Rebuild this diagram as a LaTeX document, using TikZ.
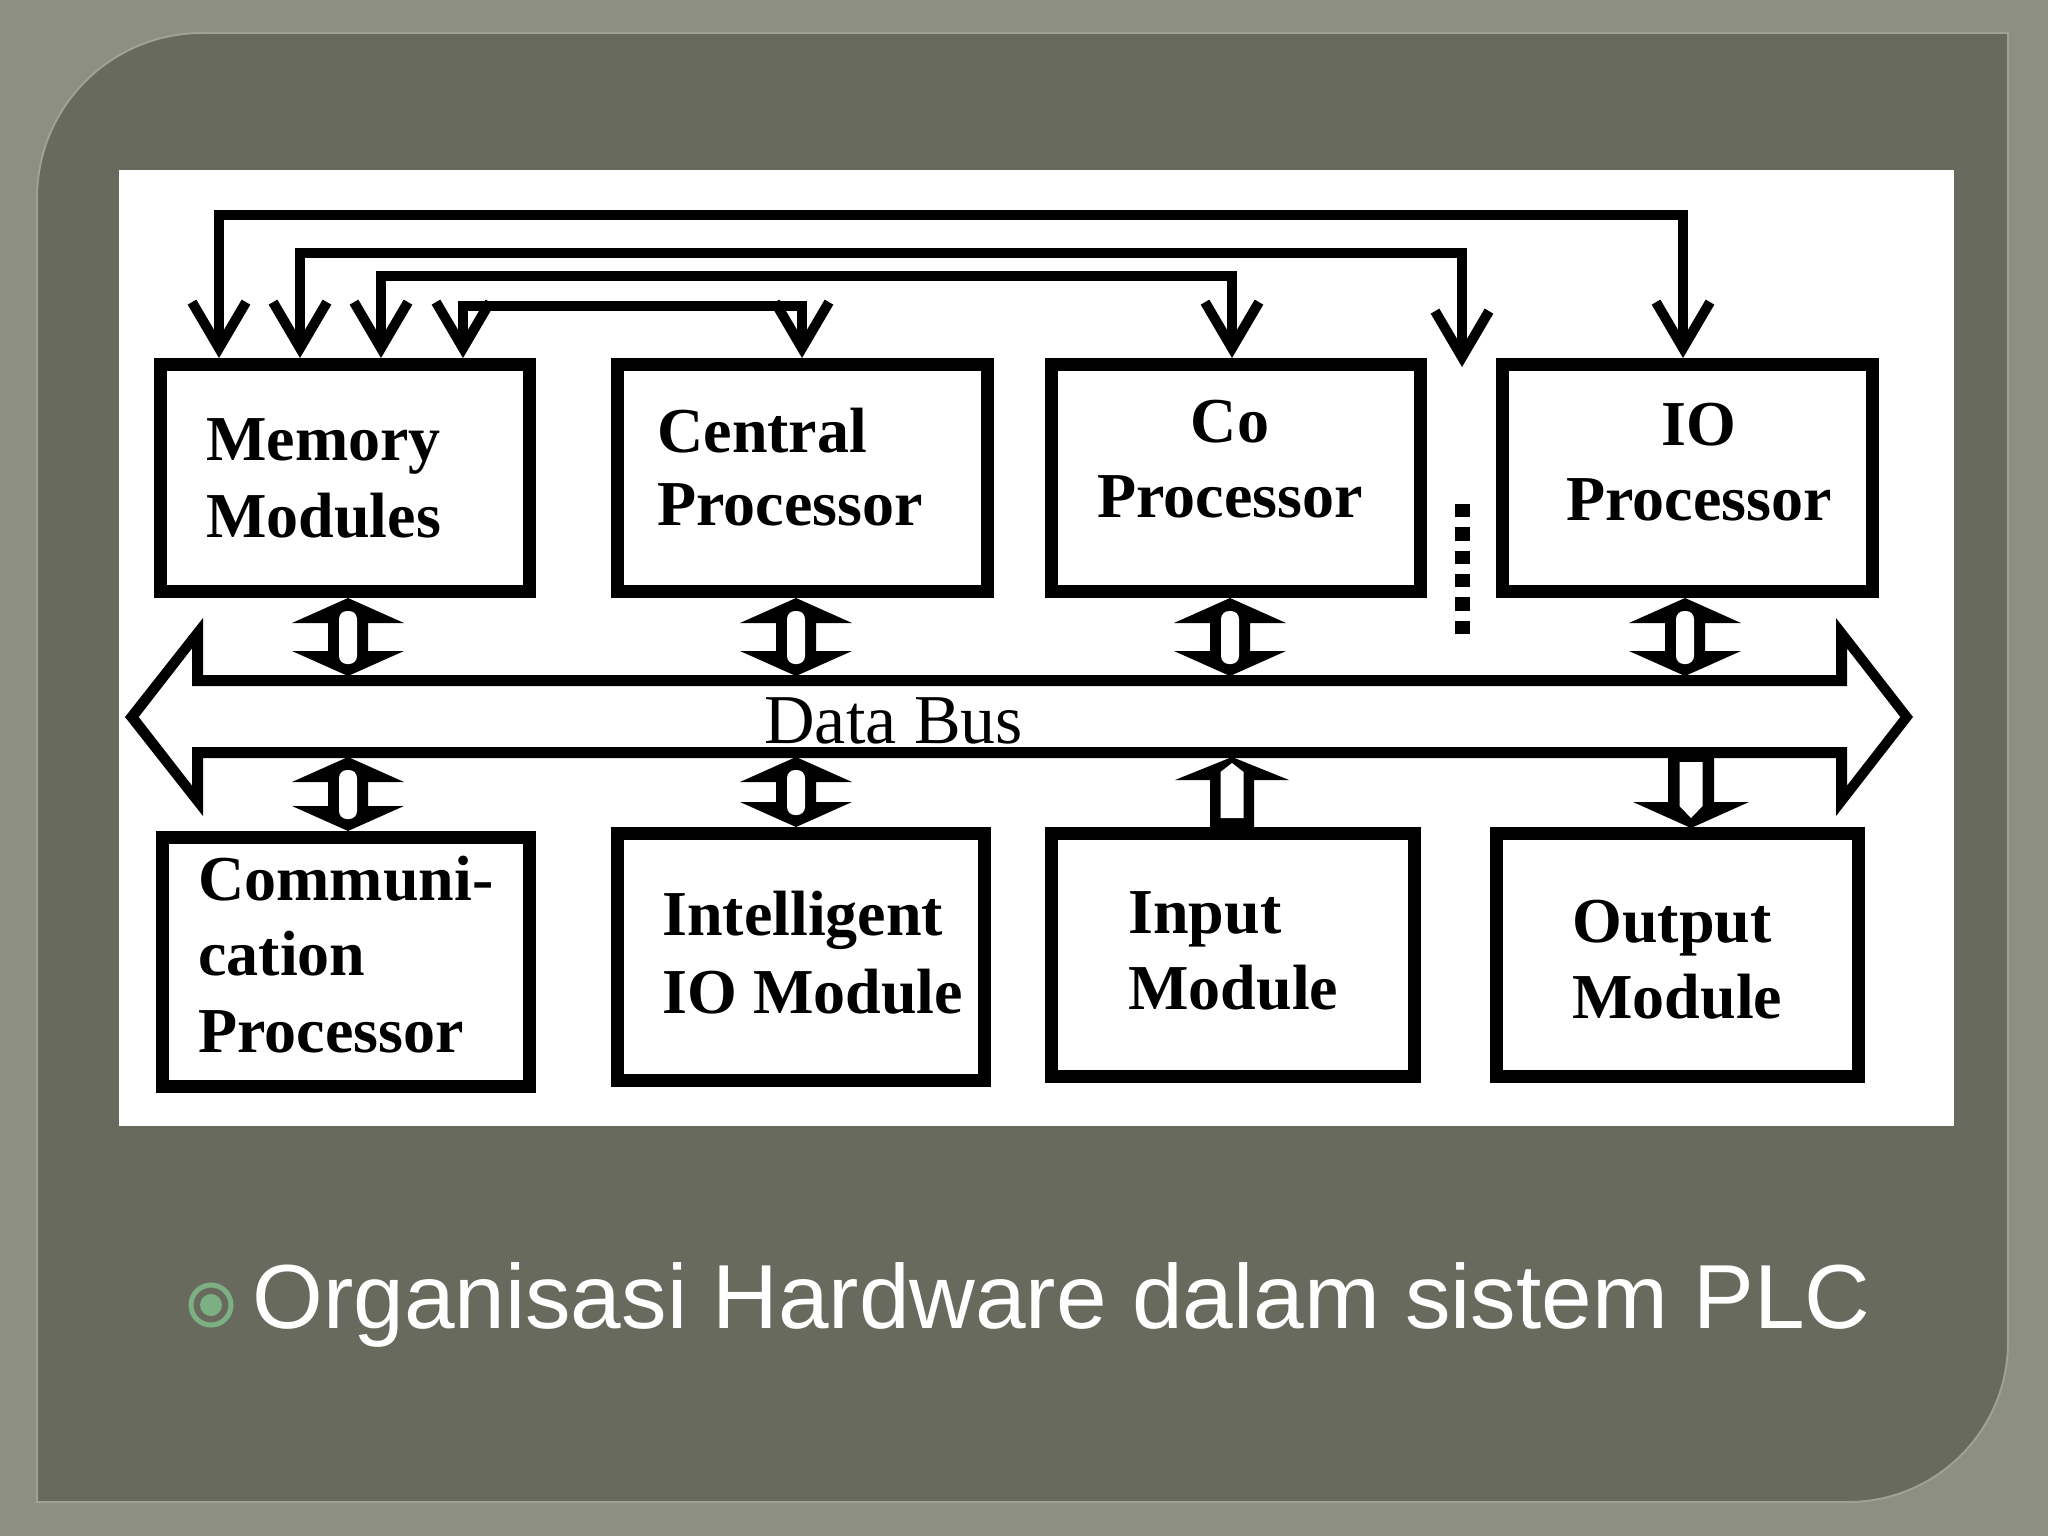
\documentclass[tikz,border=0pt]{standalone}
\usepackage{fontspec}
\setmainfont{Liberation Serif}
\newfontfamily\capfont{Liberation Sans}
\usetikzlibrary{arrows.meta}
\definecolor{outerbg}{RGB}{140,143,130}
\definecolor{panelbg}{RGB}{104,106,94}
\definecolor{rimcol}{RGB}{158,161,148}
\definecolor{bulletgreen}{RGB}{124,176,130}
\tikzset{
  box/.style={draw=black, line width=6.5pt, fill=white, inner sep=0pt, minimum height=113.5pt},
  lbl/.style={font=\bfseries\fontsize{32}{38}\selectfont, inner sep=0pt, text=black},
  buslbl/.style={font=\fontsize{35}{40}\selectfont, inner sep=0pt, text=black},
  caplbl/.style={font=\capfont\fontsize{45.5}{52}\selectfont, inner sep=0pt, text=white},
  busline/.style={line width=5pt, line join=miter,
     arrows={Straight Barb[length=23pt,width=27pt]-Straight Barb[length=23pt,width=27pt]}},
}
\newcommand{\dblarrow}[3]{%
  \fill[black] (#1,#2) -- (#1+56,#2+25) -- (#1+20,#2+25) -- (#1+20,#3-25) -- (#1+56,#3-25)
     -- (#1,#3) -- (#1-56,#3-25) -- (#1-20,#3-25) -- (#1-20,#2+25) -- (#1-56,#2+25) -- cycle;
  \fill[white, rounded corners=4pt] (#1-9,#2+13) rectangle (#1+9,#3-12);}
\begin{document}
\begin{tikzpicture}[x=0.5pt,y=-0.5pt]
\useasboundingbox (0,0) rectangle (2048,1536);
% background
\fill[outerbg] (0,0) rectangle (2048,1536);
\fill[panelbg] (37,1502) -- (37,198) arc[start angle=180, end angle=270, radius=165]
   -- (2008,33) -- (2008,1342) arc[start angle=0, end angle=90, radius=160] -- cycle;
\draw[rimcol, line width=1pt] (37,1502) -- (37,198) arc[start angle=180, end angle=270, radius=165]
   -- (2008,33) -- (2008,1342) arc[start angle=0, end angle=90, radius=160] -- cycle;
% white image area
\fill[white] (119,170) rectangle (1954,1126);
% data bus
\fill[black, even odd rule]
  (203,618) -- (203,675) -- (1836,675) -- (1836,618) -- (1913,717) -- (1836,816)
  -- (1836,758) -- (203,758) -- (203,816) -- (125,717) -- cycle
  (192,648.4) -- (192,686) -- (1847,686) -- (1847,648.4) -- (1900.3,717) -- (1847,785.6)
  -- (1847,747) -- (192,747) -- (192,785.6) -- (138.7,717) -- cycle;
\node[buslbl, anchor=base west] (dbus) at (764,743) {Data Bus};
% boxes
\node[box, minimum width=184.5pt] (mem) at (345,478) {};
\node[box, minimum width=185pt] (cen) at (802.5,478) {};
\node[box, minimum width=184.5pt] (cop) at (1236,478) {};
\node[box, minimum width=185pt] (iop) at (1687.5,478) {};
\node[box, minimum width=183.5pt, minimum height=124.5pt] (com) at (346,962) {};
\node[box, minimum width=183.5pt, minimum height=123.5pt] (int) at (801,957) {};
\node[box, minimum width=181.5pt, minimum height=121.5pt] (inp) at (1233,955) {};
\node[box, minimum width=181pt, minimum height=121.5pt] (out) at (1677.5,955) {};
% dotted separator
\draw[black, line width=7.5pt, dash pattern=on 6.67pt off 5pt] (1462.5,504) -- (1462.5,640);
% bus connectors (upper)
\dblarrow{348}{598}{676}
\dblarrow{796}{598}{676}
\dblarrow{1230}{598}{676}
\dblarrow{1685}{598}{676}
% bus connectors (lower)
\dblarrow{348}{757}{831}
\dblarrow{796}{757}{827}
% input module: up arrow
\fill[black] (1232,757) -- (1289,780) -- (1254,780) -- (1254,828) -- (1210,828) -- (1210,780) -- (1175,780) -- cycle;
\fill[white] (1232,763) -- (1243.5,772) -- (1243.5,818) -- (1220.5,818) -- (1220.5,772) -- cycle;
% output module: down arrow
\fill[black] (1668,757) -- (1714,757) -- (1714,802) -- (1749,802) -- (1691,828) -- (1633,802) -- (1668,802) -- cycle;
\fill[white] (1679.5,762) -- (1702.5,762) -- (1702.5,806) -- (1691,818) -- (1679.5,806) -- cycle;
% top connectors
\coordinate (gapend) at (1462,367);
\draw[busline] (219,0 |- mem.north) -- (219,215) -- (1683,215) -- (1683,0 |- iop.north);
\draw[busline] (300,0 |- mem.north) -- (300,253) -- (1462,253) -- (gapend);
\draw[busline] (381,0 |- mem.north) -- (381,276) -- (1232,276) -- (1232,0 |- cop.north);
\draw[busline] (463,0 |- mem.north) -- (463,306) -- (802,306) -- (802,0 |- cen.north);
% labels
\node[lbl, anchor=base west] (memA) at (206,460) {Memory};
\node[lbl, anchor=base west] (memB) at (206,537) {Modules};
\node[lbl, anchor=base west] (cenA) at (657,452) {Central};
\node[lbl, anchor=base west] (cenB) at (657,525) {Processor};
\node[lbl, anchor=base] (copA) at (1230,442) {Co};
\node[lbl, anchor=base] (copB) at (1230,517) {Processor};
\node[lbl, anchor=base] (iopA) at (1699,445) {IO};
\node[lbl, anchor=base] (iopB) at (1699,520) {Processor};
\node[lbl, anchor=base west] (comA) at (198,900) {Communi-};
\node[lbl, anchor=base west] (comB) at (198,975) {cation};
\node[lbl, anchor=base west] (comC) at (198,1052) {Processor};
\node[lbl, anchor=base west] (intA) at (662,935) {Intelligent};
\node[lbl, anchor=base west] (intB) at (662,1013) {IO Module};
\node[lbl, anchor=base west] (inpA) at (1128,933) {Input};
\node[lbl, anchor=base west] (inpB) at (1128,1009) {Module};
\node[lbl, anchor=base west] (outA) at (1572,942) {Output};
\node[lbl, anchor=base west] (outB) at (1572,1018) {Module};
% caption
\draw[bulletgreen, line width=2.5pt] (211,1305) circle[radius=10pt];
\fill[bulletgreen] (211,1305) circle[radius=5.5pt];
\node[caplbl, anchor=base west] (cap) at (252,1328) {Organisasi Hardware dalam sistem PLC};
\end{tikzpicture}
\end{document}
